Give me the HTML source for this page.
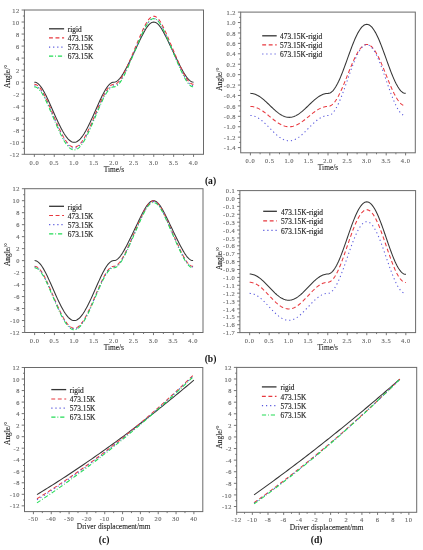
<!DOCTYPE html>
<html><head><meta charset="utf-8"><title>Figure</title>
<style>
html,body{margin:0;padding:0;background:#fff;}
body{width:423px;height:550px;overflow:hidden;}
svg{display:block;filter:blur(0.3px);}
text{font-family:'Liberation Serif', 'Times New Roman', serif;}
.tl{font-size:6.4px;fill:#686868;letter-spacing:0.55px;stroke:#686868;stroke-width:0.14px;}
.tt{font-size:7.4px;fill:#262626;stroke:#262626;stroke-width:0.1px;}
.lg{font-size:7.4px;fill:#262626;stroke:#262626;stroke-width:0.15px;}
.pl{font-size:9.6px;font-weight:bold;fill:#111;}
</style></head>
<body>
<svg width="423" height="550" viewBox="0 0 423 550">
<rect width="423" height="550" fill="#fff"/>
<rect x="24.4" y="10" width="179.1" height="144.3" fill="none" stroke="#6a6a6a" stroke-width="1.0"/>
<path d="M34.35 154.3v2.6M54.25 154.3v2.6M74.15 154.3v2.6M94.05 154.3v2.6M113.95 154.3v2.6M133.85 154.3v2.6M153.75 154.3v2.6M173.65 154.3v2.6M193.55 154.3v2.6M44.3 154.3v1.5M64.2 154.3v1.5M84.1 154.3v1.5M104 154.3v1.5M123.9 154.3v1.5M143.8 154.3v1.5M163.7 154.3v1.5M183.6 154.3v1.5" stroke="#666666" stroke-width="0.9" fill="none"/>
<text x="34.35" y="164.8" text-anchor="middle" class="tl">0.0</text>
<text x="54.25" y="164.8" text-anchor="middle" class="tl">0.5</text>
<text x="74.15" y="164.8" text-anchor="middle" class="tl">1.0</text>
<text x="94.05" y="164.8" text-anchor="middle" class="tl">1.5</text>
<text x="113.95" y="164.8" text-anchor="middle" class="tl">2.0</text>
<text x="133.85" y="164.8" text-anchor="middle" class="tl">2.5</text>
<text x="153.75" y="164.8" text-anchor="middle" class="tl">3.0</text>
<text x="173.65" y="164.8" text-anchor="middle" class="tl">3.5</text>
<text x="193.55" y="164.8" text-anchor="middle" class="tl">4.0</text>
<path d="M24.4 154.3h-2.8M24.4 142.28h-2.8M24.4 130.25h-2.8M24.4 118.23h-2.8M24.4 106.2h-2.8M24.4 94.18h-2.8M24.4 82.15h-2.8M24.4 70.12h-2.8M24.4 58.1h-2.8M24.4 46.08h-2.8M24.4 34.05h-2.8M24.4 22.02h-2.8M24.4 10h-2.8M24.4 148.29h-1.5M24.4 136.26h-1.5M24.4 124.24h-1.5M24.4 112.21h-1.5M24.4 100.19h-1.5M24.4 88.16h-1.5M24.4 76.14h-1.5M24.4 64.11h-1.5M24.4 52.09h-1.5M24.4 40.06h-1.5M24.4 28.04h-1.5M24.4 16.01h-1.5" stroke="#666666" stroke-width="0.9" fill="none"/>
<text x="19.8" y="156.9" text-anchor="end" class="tl">-12</text>
<text x="19.8" y="144.88" text-anchor="end" class="tl">-10</text>
<text x="19.8" y="132.85" text-anchor="end" class="tl">-8</text>
<text x="19.8" y="120.83" text-anchor="end" class="tl">-6</text>
<text x="19.8" y="108.8" text-anchor="end" class="tl">-4</text>
<text x="19.8" y="96.78" text-anchor="end" class="tl">-2</text>
<text x="19.8" y="84.75" text-anchor="end" class="tl">0</text>
<text x="19.8" y="72.72" text-anchor="end" class="tl">2</text>
<text x="19.8" y="60.7" text-anchor="end" class="tl">4</text>
<text x="19.8" y="48.68" text-anchor="end" class="tl">6</text>
<text x="19.8" y="36.65" text-anchor="end" class="tl">8</text>
<text x="19.8" y="24.62" text-anchor="end" class="tl">10</text>
<text x="19.8" y="12.6" text-anchor="end" class="tl">12</text>
<polyline points="34.35,82.15 35.34,82.26 36.34,82.59 37.34,83.14 38.33,83.9 39.32,84.86 40.32,86.01 41.31,87.34 42.31,88.83 43.3,90.47 44.3,92.24 45.3,94.12 46.29,96.1 47.28,98.17 48.28,100.3 49.27,102.48 50.27,104.7 51.27,106.95 52.26,109.21 53.25,111.46 54.25,113.72 55.24,115.95 56.24,118.15 57.23,120.32 58.23,122.44 59.23,124.51 60.22,126.51 61.22,128.44 62.21,130.29 63.2,132.04 64.2,133.69 65.19,135.22 66.19,136.63 67.19,137.91 68.18,139.03 69.17,140 70.17,140.81 71.16,141.45 72.16,141.91 73.16,142.18 74.15,142.28 75.14,142.18 76.14,141.91 77.13,141.45 78.13,140.81 79.12,140 80.12,139.03 81.11,137.91 82.11,136.63 83.1,135.22 84.1,133.69 85.09,132.04 86.09,130.29 87.08,128.44 88.08,126.51 89.07,124.51 90.07,122.44 91.06,120.32 92.06,118.15 93.06,115.95 94.05,113.72 95.04,111.46 96.04,109.21 97.03,106.95 98.03,104.7 99.03,102.48 100.02,100.3 101.02,98.17 102.01,96.1 103,94.12 104,92.24 104.99,90.47 105.99,88.83 106.99,87.34 107.98,86.01 108.97,84.86 109.97,83.9 110.96,83.14 111.96,82.59 112.96,82.26 113.95,82.15 114.94,82.04 115.94,81.71 116.94,81.16 117.93,80.41 118.93,79.46 119.92,78.34 120.91,77.05 121.91,75.62 122.91,74.06 123.9,72.39 124.9,70.63 125.89,68.8 126.89,66.91 127.88,64.98 128.88,63.01 129.87,61.01 130.86,58.99 131.86,56.95 132.86,54.9 133.85,52.84 134.84,50.77 135.84,48.69 136.83,46.61 137.83,44.53 138.82,42.45 139.82,40.39 140.81,38.35 141.81,36.35 142.8,34.41 143.8,32.53 144.79,30.75 145.79,29.08 146.78,27.53 147.78,26.15 148.77,24.93 149.77,23.91 150.76,23.1 151.76,22.5 152.75,22.15 153.75,22.02 154.75,22.15 155.74,22.5 156.74,23.1 157.73,23.91 158.72,24.93 159.72,26.15 160.72,27.53 161.71,29.08 162.71,30.75 163.7,32.53 164.69,34.41 165.69,36.35 166.69,38.35 167.68,40.39 168.68,42.45 169.67,44.53 170.66,46.61 171.66,48.69 172.66,50.77 173.65,52.84 174.65,54.9 175.64,56.95 176.64,58.99 177.63,61.01 178.62,63.01 179.62,64.98 180.62,66.91 181.61,68.8 182.6,70.63 183.6,72.39 184.59,74.06 185.59,75.62 186.59,77.05 187.58,78.34 188.57,79.46 189.57,80.41 190.56,81.16 191.56,81.71 192.55,82.04 193.55,82.15" fill="none" stroke="#353535" stroke-width="1.05"/>
<polyline points="34.35,84.31 35.34,84.43 36.34,84.77 37.34,85.34 38.33,86.13 39.32,87.13 40.32,88.33 41.31,89.71 42.31,91.26 43.3,92.96 44.3,94.81 45.3,96.77 46.29,98.84 47.28,100.99 48.28,103.22 49.27,105.5 50.27,107.82 51.27,110.17 52.26,112.54 53.25,114.9 54.25,117.26 55.24,119.6 56.24,121.92 57.23,124.19 58.23,126.42 59.23,128.59 60.22,130.69 61.22,132.71 62.21,134.65 63.2,136.49 64.2,138.22 65.19,139.82 66.19,141.3 67.19,142.63 68.18,143.81 69.17,144.83 70.17,145.67 71.16,146.34 72.16,146.82 73.16,147.11 74.15,147.21 75.14,147.11 76.14,146.82 77.13,146.34 78.13,145.67 79.12,144.83 80.12,143.81 81.11,142.63 82.11,141.3 83.1,139.82 84.1,138.22 85.09,136.49 86.09,134.65 87.08,132.71 88.08,130.69 89.07,128.59 90.07,126.42 91.06,124.19 92.06,121.92 93.06,119.6 94.05,117.26 95.04,114.9 96.04,112.54 97.03,110.17 98.03,107.82 99.03,105.5 100.02,103.22 101.02,100.99 102.01,98.84 103,96.77 104,94.81 104.99,92.96 105.99,91.26 106.99,89.71 107.98,88.33 108.97,87.13 109.97,86.13 110.96,85.34 111.96,84.77 112.96,84.43 113.95,84.31 114.94,84.19 115.94,83.82 116.94,83.22 117.93,82.38 118.93,81.32 119.92,80.07 120.91,78.63 121.91,77.02 122.91,75.27 123.9,73.39 124.9,71.4 125.89,69.33 126.89,67.18 127.88,64.97 128.88,62.71 129.87,60.42 130.86,58.1 131.86,55.75 132.86,53.39 133.85,51.02 134.84,48.64 135.84,46.25 136.83,43.86 137.83,41.48 138.82,39.11 139.82,36.76 140.81,34.45 141.81,32.19 142.8,30 143.8,27.9 144.79,25.9 145.79,24.04 146.78,22.32 147.78,20.78 148.77,19.43 149.77,18.3 150.76,17.4 151.76,16.75 152.75,16.36 153.75,16.22 154.75,16.36 155.74,16.75 156.74,17.4 157.73,18.3 158.72,19.43 159.72,20.78 160.72,22.32 161.71,24.04 162.71,25.9 163.7,27.9 164.69,30 165.69,32.19 166.69,34.45 167.68,36.76 168.68,39.11 169.67,41.48 170.66,43.86 171.66,46.25 172.66,48.64 173.65,51.02 174.65,53.39 175.64,55.75 176.64,58.1 177.63,60.42 178.62,62.71 179.62,64.97 180.62,67.18 181.61,69.33 182.6,71.4 183.6,73.39 184.59,75.27 185.59,77.02 186.59,78.63 187.58,80.07 188.57,81.32 189.57,82.38 190.56,83.22 191.56,83.82 192.55,84.19 193.55,84.31" fill="none" stroke="#e8393f" stroke-width="1.05" stroke-dasharray="3.9 2.6"/>
<polyline points="34.35,85.82 35.34,85.93 36.34,86.28 37.34,86.84 38.33,87.63 39.32,88.62 40.32,89.81 41.31,91.18 42.31,92.72 43.3,94.42 44.3,96.25 45.3,98.2 46.29,100.26 47.28,102.4 48.28,104.61 49.27,106.87 50.27,109.18 51.27,111.51 52.26,113.86 53.25,116.21 54.25,118.56 55.24,120.88 56.24,123.18 57.23,125.43 58.23,127.64 59.23,129.8 60.22,131.88 61.22,133.89 62.21,135.82 63.2,137.64 64.2,139.36 65.19,140.96 66.19,142.42 67.19,143.75 68.18,144.92 69.17,145.93 70.17,146.77 71.16,147.43 72.16,147.9 73.16,148.19 74.15,148.29 75.14,148.19 76.14,147.9 77.13,147.43 78.13,146.77 79.12,145.93 80.12,144.92 81.11,143.75 82.11,142.42 83.1,140.96 84.1,139.36 85.09,137.64 86.09,135.82 87.08,133.89 88.08,131.88 89.07,129.8 90.07,127.64 91.06,125.43 92.06,123.18 93.06,120.88 94.05,118.56 95.04,116.21 96.04,113.86 97.03,111.51 98.03,109.18 99.03,106.87 100.02,104.61 101.02,102.4 102.01,100.26 103,98.2 104,96.25 104.99,94.42 105.99,92.72 106.99,91.18 107.98,89.81 108.97,88.62 109.97,87.63 110.96,86.84 111.96,86.28 112.96,85.93 113.95,85.82 114.94,85.7 115.94,85.33 116.94,84.73 117.93,83.9 118.93,82.86 119.92,81.62 120.91,80.19 121.91,78.6 122.91,76.87 123.9,75.01 124.9,73.05 125.89,71 126.89,68.87 127.88,66.69 128.88,64.47 129.87,62.2 130.86,59.91 131.86,57.6 132.86,55.27 133.85,52.93 134.84,50.58 135.84,48.22 136.83,45.86 137.83,43.51 138.82,41.17 139.82,38.86 140.81,36.57 141.81,34.34 142.8,32.18 143.8,30.1 144.79,28.12 145.79,26.27 146.78,24.57 147.78,23.05 148.77,21.72 149.77,20.6 150.76,19.71 151.76,19.06 152.75,18.67 153.75,18.54 154.75,18.67 155.74,19.06 156.74,19.71 157.73,20.6 158.72,21.71 159.72,23.05 160.72,24.57 161.71,26.27 162.71,28.11 163.7,30.09 164.69,32.17 165.69,34.33 166.69,36.56 167.68,38.84 168.68,41.15 169.67,43.49 170.66,45.84 171.66,48.2 172.66,50.55 173.65,52.9 174.65,55.24 175.64,57.57 176.64,59.87 177.63,62.16 178.62,64.42 179.62,66.65 180.62,68.83 181.61,70.95 182.6,73 183.6,74.96 184.59,76.82 185.59,78.55 186.59,80.14 187.58,81.56 188.57,82.8 189.57,83.84 190.56,84.67 191.56,85.27 192.55,85.64 193.55,85.76" fill="none" stroke="#5757dd" stroke-width="1.05" stroke-dasharray="1.2 2.9"/>
<polyline points="34.35,86.87 35.34,86.99 36.34,87.33 37.34,87.9 38.33,88.69 39.32,89.69 40.32,90.89 41.31,92.27 42.31,93.83 43.3,95.54 44.3,97.38 45.3,99.35 46.29,101.43 47.28,103.58 48.28,105.82 49.27,108.1 50.27,110.43 51.27,112.79 52.26,115.16 53.25,117.53 54.25,119.89 55.24,122.24 56.24,124.56 57.23,126.84 58.23,129.07 59.23,131.24 60.22,133.35 61.22,135.38 62.21,137.32 63.2,139.17 64.2,140.9 65.19,142.51 66.19,143.99 67.19,145.33 68.18,146.51 69.17,147.53 70.17,148.38 71.16,149.04 72.16,149.52 73.16,149.81 74.15,149.91 75.14,149.81 76.14,149.52 77.13,149.04 78.13,148.38 79.12,147.53 80.12,146.51 81.11,145.33 82.11,143.99 83.1,142.51 84.1,140.9 85.09,139.17 86.09,137.32 87.08,135.38 88.08,133.35 89.07,131.24 90.07,129.07 91.06,126.84 92.06,124.56 93.06,122.24 94.05,119.89 95.04,117.53 96.04,115.16 97.03,112.79 98.03,110.43 99.03,108.1 100.02,105.82 101.02,103.58 102.01,101.43 103,99.35 104,97.38 104.99,95.54 105.99,93.83 106.99,92.27 107.98,90.89 108.97,89.69 109.97,88.69 110.96,87.9 111.96,87.33 112.96,86.99 113.95,86.87 114.94,86.75 115.94,86.38 116.94,85.77 117.93,84.93 118.93,83.87 119.92,82.61 120.91,81.17 121.91,79.56 122.91,77.8 123.9,75.91 124.9,73.92 125.89,71.84 126.89,69.68 127.88,67.47 128.88,65.2 129.87,62.9 130.86,60.57 131.86,58.22 132.86,55.85 133.85,53.47 134.84,51.08 135.84,48.68 136.83,46.29 137.83,43.9 138.82,41.52 139.82,39.17 140.81,36.85 141.81,34.58 142.8,32.39 143.8,30.27 144.79,28.27 145.79,26.4 146.78,24.68 147.78,23.14 148.77,21.79 149.77,20.65 150.76,19.75 151.76,19.1 152.75,18.7 153.75,18.57 154.75,18.7 155.74,19.1 156.74,19.75 157.73,20.65 158.72,21.79 159.72,23.14 160.72,24.68 161.71,26.4 162.71,28.28 163.7,30.28 164.69,32.39 165.69,34.59 166.69,36.86 167.68,39.17 168.68,41.53 169.67,43.91 170.66,46.3 171.66,48.7 172.66,51.09 173.65,53.49 174.65,55.87 175.64,58.24 176.64,60.59 177.63,62.92 178.62,65.22 179.62,67.49 180.62,69.7 181.61,71.86 182.6,73.95 183.6,75.94 184.59,77.83 185.59,79.58 186.59,81.2 187.58,82.64 188.57,83.9 189.57,84.96 190.56,85.8 191.56,86.41 192.55,86.78 193.55,86.9" fill="none" stroke="#22dc55" stroke-width="1.05" stroke-dasharray="4.2 1.9 0.9 1.9"/>
<rect x="240.7" y="12.1" width="174.6" height="140.7" fill="none" stroke="#6a6a6a" stroke-width="1.0"/>
<path d="M250.4 152.8v2.6M269.8 152.8v2.6M289.2 152.8v2.6M308.6 152.8v2.6M328 152.8v2.6M347.4 152.8v2.6M366.8 152.8v2.6M386.2 152.8v2.6M405.6 152.8v2.6M260.1 152.8v1.5M279.5 152.8v1.5M298.9 152.8v1.5M318.3 152.8v1.5M337.7 152.8v1.5M357.1 152.8v1.5M376.5 152.8v1.5M395.9 152.8v1.5" stroke="#666666" stroke-width="0.9" fill="none"/>
<text x="250.4" y="163.3" text-anchor="middle" class="tl">0.0</text>
<text x="269.8" y="163.3" text-anchor="middle" class="tl">0.5</text>
<text x="289.2" y="163.3" text-anchor="middle" class="tl">1.0</text>
<text x="308.6" y="163.3" text-anchor="middle" class="tl">1.5</text>
<text x="328" y="163.3" text-anchor="middle" class="tl">2.0</text>
<text x="347.4" y="163.3" text-anchor="middle" class="tl">2.5</text>
<text x="366.8" y="163.3" text-anchor="middle" class="tl">3.0</text>
<text x="386.2" y="163.3" text-anchor="middle" class="tl">3.5</text>
<text x="405.6" y="163.3" text-anchor="middle" class="tl">4.0</text>
<path d="M240.7 147.59h-2.8M240.7 137.17h-2.8M240.7 126.74h-2.8M240.7 116.32h-2.8M240.7 105.9h-2.8M240.7 95.48h-2.8M240.7 85.06h-2.8M240.7 74.63h-2.8M240.7 64.21h-2.8M240.7 53.79h-2.8M240.7 43.37h-2.8M240.7 32.94h-2.8M240.7 22.52h-2.8M240.7 12.1h-2.8M240.7 142.38h-1.5M240.7 131.96h-1.5M240.7 121.53h-1.5M240.7 111.11h-1.5M240.7 100.69h-1.5M240.7 90.27h-1.5M240.7 79.84h-1.5M240.7 69.42h-1.5M240.7 59h-1.5M240.7 48.58h-1.5M240.7 38.16h-1.5M240.7 27.73h-1.5M240.7 17.31h-1.5" stroke="#666666" stroke-width="0.9" fill="none"/>
<text x="236.1" y="150.19" text-anchor="end" class="tl">-1.4</text>
<text x="236.1" y="139.77" text-anchor="end" class="tl">-1.2</text>
<text x="236.1" y="129.34" text-anchor="end" class="tl">-1.0</text>
<text x="236.1" y="118.92" text-anchor="end" class="tl">-0.8</text>
<text x="236.1" y="108.5" text-anchor="end" class="tl">-0.6</text>
<text x="236.1" y="98.08" text-anchor="end" class="tl">-0.4</text>
<text x="236.1" y="87.66" text-anchor="end" class="tl">-0.2</text>
<text x="236.1" y="77.23" text-anchor="end" class="tl">0.0</text>
<text x="236.1" y="66.81" text-anchor="end" class="tl">0.2</text>
<text x="236.1" y="56.39" text-anchor="end" class="tl">0.4</text>
<text x="236.1" y="45.97" text-anchor="end" class="tl">0.6</text>
<text x="236.1" y="35.54" text-anchor="end" class="tl">0.8</text>
<text x="236.1" y="25.12" text-anchor="end" class="tl">1.0</text>
<text x="236.1" y="14.7" text-anchor="end" class="tl">1.2</text>
<polyline points="250.4,93.39 251.37,93.43 252.34,93.54 253.31,93.72 254.28,93.98 255.25,94.31 256.22,94.7 257.19,95.16 258.16,95.68 259.13,96.27 260.1,96.9 261.07,97.59 262.04,98.33 263.01,99.12 263.98,99.94 264.95,100.79 265.92,101.68 266.89,102.58 267.86,103.5 268.83,104.44 269.8,105.38 270.77,106.32 271.74,107.25 272.71,108.18 273.68,109.08 274.65,109.97 275.62,110.82 276.59,111.64 277.56,112.42 278.53,113.16 279.5,113.85 280.47,114.49 281.44,115.08 282.41,115.6 283.38,116.06 284.35,116.45 285.32,116.78 286.29,117.03 287.26,117.22 288.23,117.33 289.2,117.36 290.17,117.33 291.14,117.22 292.11,117.03 293.08,116.78 294.05,116.45 295.02,116.06 295.99,115.6 296.96,115.08 297.93,114.49 298.9,113.85 299.87,113.16 300.84,112.42 301.81,111.64 302.78,110.82 303.75,109.97 304.72,109.08 305.69,108.18 306.66,107.25 307.63,106.32 308.6,105.38 309.57,104.44 310.54,103.5 311.51,102.58 312.48,101.68 313.45,100.79 314.42,99.94 315.39,99.12 316.36,98.33 317.33,97.59 318.3,96.9 319.27,96.27 320.24,95.68 321.21,95.16 322.18,94.7 323.15,94.31 324.12,93.98 325.09,93.72 326.06,93.54 327.03,93.43 328,93.39 328.97,93.29 329.94,92.97 330.91,92.44 331.88,91.7 332.85,90.77 333.82,89.63 334.79,88.31 335.76,86.8 336.73,85.12 337.7,83.28 338.67,81.29 339.64,79.16 340.61,76.91 341.58,74.54 342.55,72.08 343.52,69.54 344.49,66.93 345.46,64.27 346.43,61.58 347.4,58.87 348.37,56.16 349.34,53.47 350.31,50.81 351.28,48.2 352.25,45.66 353.22,43.2 354.19,40.83 355.16,38.58 356.13,36.45 357.1,34.46 358.07,32.62 359.04,30.94 360.01,29.43 360.98,28.11 361.95,26.97 362.92,26.04 363.89,25.3 364.86,24.77 365.83,24.45 366.8,24.35 367.77,24.45 368.74,24.77 369.71,25.3 370.68,26.04 371.65,26.97 372.62,28.11 373.59,29.43 374.56,30.94 375.53,32.62 376.5,34.46 377.47,36.45 378.44,38.58 379.41,40.83 380.38,43.2 381.35,45.66 382.32,48.2 383.29,50.81 384.26,53.47 385.23,56.16 386.2,58.87 387.17,61.58 388.14,64.27 389.11,66.93 390.08,69.54 391.05,72.08 392.02,74.54 392.99,76.91 393.96,79.16 394.93,81.29 395.9,83.28 396.87,85.12 397.84,86.8 398.81,88.31 399.78,89.63 400.75,90.77 401.72,91.7 402.69,92.44 403.66,92.97 404.63,93.29 405.6,93.39" fill="none" stroke="#353535" stroke-width="1.05"/>
<polyline points="250.4,106.42 251.37,106.45 252.34,106.55 253.31,106.7 254.28,106.92 255.25,107.19 256.22,107.53 257.19,107.92 258.16,108.36 259.13,108.86 260.1,109.4 261.07,109.98 262.04,110.61 263.01,111.27 263.98,111.97 264.95,112.69 265.92,113.44 266.89,114.21 267.86,114.99 268.83,115.79 269.8,116.58 270.77,117.38 271.74,118.17 272.71,118.95 273.68,119.72 274.65,120.47 275.62,121.2 276.59,121.89 277.56,122.56 278.53,123.18 279.5,123.77 280.47,124.31 281.44,124.8 282.41,125.25 283.38,125.64 284.35,125.97 285.32,126.25 286.29,126.46 287.26,126.62 288.23,126.71 289.2,126.74 290.17,126.71 291.14,126.62 292.11,126.46 293.08,126.25 294.05,125.97 295.02,125.64 295.99,125.25 296.96,124.8 297.93,124.31 298.9,123.77 299.87,123.18 300.84,122.56 301.81,121.89 302.78,121.2 303.75,120.47 304.72,119.72 305.69,118.95 306.66,118.17 307.63,117.38 308.6,116.58 309.57,115.79 310.54,114.99 311.51,114.21 312.48,113.44 313.45,112.69 314.42,111.97 315.39,111.27 316.36,110.61 317.33,109.98 318.3,109.4 319.27,108.86 320.24,108.36 321.21,107.92 322.18,107.53 323.15,107.19 324.12,106.92 325.09,106.7 326.06,106.55 327.03,106.45 328,106.42 328.97,106.33 329.94,106.04 330.91,105.56 331.88,104.9 332.85,104.06 333.82,103.04 334.79,101.85 335.76,100.5 336.73,98.99 337.7,97.34 338.67,95.55 339.64,93.64 340.61,91.62 341.58,89.49 342.55,87.28 343.52,85 344.49,82.65 345.46,80.27 346.43,77.85 347.4,75.42 348.37,72.98 349.34,70.56 350.31,68.18 351.28,65.83 352.25,63.55 353.22,61.34 354.19,59.21 355.16,57.19 356.13,55.28 357.1,53.49 358.07,51.84 359.04,50.33 360.01,48.98 360.98,47.79 361.95,46.77 362.92,45.93 363.89,45.27 364.86,44.79 365.83,44.5 366.8,44.41 367.77,44.5 368.74,44.79 369.71,45.26 370.68,45.91 371.65,46.75 372.62,47.76 373.59,48.94 374.56,50.28 375.53,51.78 376.5,53.41 377.47,55.19 378.44,57.08 379.41,59.09 380.38,61.2 381.35,63.39 382.32,65.65 383.29,67.98 384.26,70.34 385.23,72.74 386.2,75.15 387.17,77.57 388.14,79.96 389.11,82.33 390.08,84.66 391.05,86.92 392.02,89.11 392.99,91.22 393.96,93.23 394.93,95.12 395.9,96.89 396.87,98.53 397.84,100.03 398.81,101.37 399.78,102.55 400.75,103.56 401.72,104.4 402.69,105.05 403.66,105.52 404.63,105.81 405.6,105.9" fill="none" stroke="#e8393f" stroke-width="1.05" stroke-dasharray="3.9 2.6"/>
<polyline points="250.4,115.54 251.37,115.58 252.34,115.7 253.31,115.89 254.28,116.16 255.25,116.5 256.22,116.92 257.19,117.4 258.16,117.95 259.13,118.57 260.1,119.24 261.07,119.97 262.04,120.75 263.01,121.57 263.98,122.44 264.95,123.34 265.92,124.27 266.89,125.23 267.86,126.2 268.83,127.19 269.8,128.18 270.77,129.17 271.74,130.15 272.71,131.13 273.68,132.08 274.65,133.01 275.62,133.91 276.59,134.78 277.56,135.61 278.53,136.38 279.5,137.11 280.47,137.79 281.44,138.4 282.41,138.95 283.38,139.44 284.35,139.85 285.32,140.2 286.29,140.47 287.26,140.66 288.23,140.78 289.2,140.81 290.17,140.78 291.14,140.66 292.11,140.47 293.08,140.2 294.05,139.85 295.02,139.44 295.99,138.95 296.96,138.4 297.93,137.79 298.9,137.11 299.87,136.38 300.84,135.61 301.81,134.78 302.78,133.91 303.75,133.01 304.72,132.08 305.69,131.13 306.66,130.15 307.63,129.17 308.6,128.18 309.57,127.19 310.54,126.2 311.51,125.23 312.48,124.27 313.45,123.34 314.42,122.44 315.39,121.57 316.36,120.75 317.33,119.97 318.3,119.24 319.27,118.57 320.24,117.95 321.21,117.4 322.18,116.92 323.15,116.5 324.12,116.16 325.09,115.89 326.06,115.7 327.03,115.58 328,115.54 328.97,115.43 329.94,115.1 330.91,114.56 331.88,113.81 332.85,112.84 333.82,111.68 334.79,110.32 335.76,108.77 336.73,107.05 337.7,105.16 338.67,103.12 339.64,100.93 340.61,98.62 341.58,96.19 342.55,93.67 343.52,91.06 344.49,88.38 345.46,85.65 346.43,82.89 347.4,80.11 348.37,77.32 349.34,74.56 350.31,71.83 351.28,69.15 352.25,66.54 353.22,64.02 354.19,61.59 355.16,59.28 356.13,57.09 357.1,55.05 358.07,53.16 359.04,51.44 360.01,49.89 360.98,48.53 361.95,47.37 362.92,46.4 363.89,45.65 364.86,45.11 365.83,44.78 366.8,44.67 367.77,44.78 368.74,45.11 369.71,45.65 370.68,46.41 371.65,47.38 372.62,48.55 373.59,49.91 374.56,51.46 375.53,53.19 376.5,55.09 377.47,57.14 378.44,59.33 379.41,61.65 380.38,64.09 381.35,66.62 382.32,69.24 383.29,71.93 384.26,74.67 385.23,77.44 386.2,80.24 387.17,83.03 388.14,85.8 389.11,88.54 390.08,91.23 391.05,93.85 392.02,96.38 392.99,98.82 393.96,101.14 394.93,103.33 395.9,105.38 396.87,107.28 397.84,109.01 398.81,110.56 399.78,111.92 400.75,113.09 401.72,114.06 402.69,114.82 403.66,115.36 404.63,115.69 405.6,115.8" fill="none" stroke="#5757dd" stroke-width="1.05" stroke-dasharray="1.2 2.9"/>
<rect x="24.7" y="188.7" width="178.3" height="143.8" fill="none" stroke="#6a6a6a" stroke-width="1.0"/>
<path d="M34.61 332.5v2.6M54.42 332.5v2.6M74.23 332.5v2.6M94.04 332.5v2.6M113.85 332.5v2.6M133.66 332.5v2.6M153.47 332.5v2.6M173.28 332.5v2.6M193.09 332.5v2.6M44.51 332.5v1.5M64.32 332.5v1.5M84.13 332.5v1.5M103.94 332.5v1.5M123.76 332.5v1.5M143.57 332.5v1.5M163.38 332.5v1.5M183.19 332.5v1.5" stroke="#666666" stroke-width="0.9" fill="none"/>
<text x="34.61" y="342.5" text-anchor="middle" class="tl">0.0</text>
<text x="54.42" y="342.5" text-anchor="middle" class="tl">0.5</text>
<text x="74.23" y="342.5" text-anchor="middle" class="tl">1.0</text>
<text x="94.04" y="342.5" text-anchor="middle" class="tl">1.5</text>
<text x="113.85" y="342.5" text-anchor="middle" class="tl">2.0</text>
<text x="133.66" y="342.5" text-anchor="middle" class="tl">2.5</text>
<text x="153.47" y="342.5" text-anchor="middle" class="tl">3.0</text>
<text x="173.28" y="342.5" text-anchor="middle" class="tl">3.5</text>
<text x="193.09" y="342.5" text-anchor="middle" class="tl">4.0</text>
<path d="M24.7 332.5h-2.8M24.7 320.52h-2.8M24.7 308.53h-2.8M24.7 296.55h-2.8M24.7 284.57h-2.8M24.7 272.58h-2.8M24.7 260.6h-2.8M24.7 248.62h-2.8M24.7 236.63h-2.8M24.7 224.65h-2.8M24.7 212.67h-2.8M24.7 200.68h-2.8M24.7 188.7h-2.8M24.7 326.51h-1.5M24.7 314.52h-1.5M24.7 302.54h-1.5M24.7 290.56h-1.5M24.7 278.57h-1.5M24.7 266.59h-1.5M24.7 254.61h-1.5M24.7 242.62h-1.5M24.7 230.64h-1.5M24.7 218.66h-1.5M24.7 206.67h-1.5M24.7 194.69h-1.5" stroke="#666666" stroke-width="0.9" fill="none"/>
<text x="20.1" y="335.1" text-anchor="end" class="tl">-12</text>
<text x="20.1" y="323.12" text-anchor="end" class="tl">-10</text>
<text x="20.1" y="311.13" text-anchor="end" class="tl">-8</text>
<text x="20.1" y="299.15" text-anchor="end" class="tl">-6</text>
<text x="20.1" y="287.17" text-anchor="end" class="tl">-4</text>
<text x="20.1" y="275.18" text-anchor="end" class="tl">-2</text>
<text x="20.1" y="263.2" text-anchor="end" class="tl">0</text>
<text x="20.1" y="251.22" text-anchor="end" class="tl">2</text>
<text x="20.1" y="239.23" text-anchor="end" class="tl">4</text>
<text x="20.1" y="227.25" text-anchor="end" class="tl">6</text>
<text x="20.1" y="215.27" text-anchor="end" class="tl">8</text>
<text x="20.1" y="203.28" text-anchor="end" class="tl">10</text>
<text x="20.1" y="191.3" text-anchor="end" class="tl">12</text>
<polyline points="34.61,260.6 35.6,260.71 36.59,261.04 37.58,261.59 38.57,262.35 39.56,263.3 40.55,264.45 41.54,265.77 42.53,267.26 43.52,268.89 44.51,270.65 45.5,272.53 46.49,274.51 47.48,276.56 48.47,278.69 49.46,280.86 50.45,283.07 51.45,285.31 52.44,287.56 53.43,289.81 54.42,292.06 55.41,294.28 56.4,296.48 57.39,298.64 58.38,300.75 59.37,302.81 60.36,304.81 61.35,306.73 62.34,308.57 63.33,310.32 64.32,311.96 65.31,313.49 66.3,314.89 67.29,316.16 68.28,317.29 69.28,318.25 70.27,319.06 71.26,319.69 72.25,320.15 73.24,320.42 74.23,320.52 75.22,320.42 76.21,320.15 77.2,319.69 78.19,319.06 79.18,318.25 80.17,317.29 81.16,316.16 82.15,314.89 83.14,313.49 84.13,311.96 85.12,310.32 86.11,308.57 87.11,306.73 88.1,304.81 89.09,302.81 90.08,300.75 91.07,298.64 92.06,296.48 93.05,294.28 94.04,292.06 95.03,289.81 96.02,287.56 97.01,285.31 98,283.07 98.99,280.86 99.98,278.69 100.97,276.56 101.96,274.51 102.95,272.53 103.94,270.65 104.94,268.89 105.93,267.26 106.92,265.77 107.91,264.45 108.9,263.3 109.89,262.35 110.88,261.59 111.87,261.04 112.86,260.71 113.85,260.6 114.84,260.49 115.83,260.16 116.82,259.61 117.81,258.87 118.8,257.92 119.79,256.8 120.78,255.52 121.77,254.09 122.77,252.54 123.76,250.88 124.75,249.12 125.74,247.3 126.73,245.42 127.72,243.49 128.71,241.52 129.7,239.53 130.69,237.52 131.68,235.49 132.67,233.44 133.66,231.39 134.65,229.33 135.64,227.26 136.63,225.18 137.62,223.11 138.61,221.04 139.6,218.99 140.59,216.96 141.59,214.96 142.58,213.02 143.57,211.16 144.56,209.38 145.55,207.71 146.54,206.17 147.53,204.79 148.52,203.58 149.51,202.56 150.5,201.75 151.49,201.16 152.48,200.8 153.47,200.68 154.46,200.8 155.45,201.16 156.44,201.75 157.43,202.56 158.43,203.58 159.42,204.79 160.41,206.17 161.4,207.71 162.39,209.38 163.38,211.16 164.37,213.02 165.36,214.96 166.35,216.96 167.34,218.99 168.33,221.04 169.32,223.11 170.31,225.18 171.3,227.26 172.29,229.33 173.28,231.39 174.27,233.44 175.26,235.49 176.26,237.52 177.25,239.53 178.24,241.52 179.23,243.49 180.22,245.42 181.21,247.3 182.2,249.12 183.19,250.88 184.18,252.54 185.17,254.09 186.16,255.52 187.15,256.8 188.14,257.92 189.13,258.87 190.12,259.61 191.11,260.16 192.1,260.49 193.09,260.6" fill="none" stroke="#353535" stroke-width="1.05"/>
<polyline points="34.61,266.34 35.6,266.45 36.59,266.79 37.58,267.36 38.57,268.13 39.56,269.12 40.55,270.3 41.54,271.66 42.53,273.19 43.52,274.87 44.51,276.68 45.5,278.62 46.49,280.66 47.48,282.78 48.47,284.97 49.46,287.22 50.45,289.5 51.45,291.81 52.44,294.14 53.43,296.47 54.42,298.79 55.41,301.09 56.4,303.37 57.39,305.6 58.38,307.79 59.37,309.93 60.36,311.99 61.35,313.99 62.34,315.89 63.33,317.7 64.32,319.4 65.31,320.98 66.3,322.43 67.29,323.74 68.28,324.91 69.28,325.91 70.27,326.74 71.26,327.39 72.25,327.87 73.24,328.15 74.23,328.25 75.22,328.15 76.21,327.87 77.2,327.39 78.19,326.74 79.18,325.91 80.17,324.91 81.16,323.74 82.15,322.43 83.14,320.98 84.13,319.4 85.12,317.7 86.11,315.89 87.11,313.99 88.1,311.99 89.09,309.93 90.08,307.79 91.07,305.6 92.06,303.37 93.05,301.09 94.04,298.79 95.03,296.47 96.02,294.14 97.01,291.81 98,289.5 98.99,287.22 99.98,284.97 100.97,282.78 101.96,280.66 102.95,278.62 103.94,276.68 104.94,274.87 105.93,273.19 106.92,271.66 107.91,270.3 108.9,269.12 109.89,268.13 110.88,267.36 111.87,266.79 112.86,266.45 113.85,266.34 114.84,266.22 115.83,265.87 116.82,265.28 117.81,264.47 118.8,263.45 119.79,262.24 120.78,260.85 121.77,259.31 122.77,257.62 123.76,255.81 124.75,253.9 125.74,251.91 126.73,249.85 127.72,247.73 128.71,245.57 129.7,243.38 130.69,241.16 131.68,238.91 132.67,236.66 133.66,234.39 134.65,232.11 135.64,229.83 136.63,227.54 137.62,225.26 138.61,222.99 139.6,220.74 140.59,218.52 141.59,216.35 142.58,214.24 143.57,212.22 144.56,210.29 145.55,208.49 146.54,206.84 147.53,205.35 148.52,204.05 149.51,202.95 150.5,202.08 151.49,201.45 152.48,201.07 153.47,200.94 154.46,201.07 155.45,201.45 156.44,202.08 157.43,202.95 158.43,204.05 159.42,205.35 160.41,206.84 161.4,208.49 162.39,210.3 163.38,212.22 164.37,214.25 165.36,216.36 166.35,218.53 167.34,220.75 168.33,223 169.32,225.27 170.31,227.55 171.3,229.84 172.29,232.12 173.28,234.4 174.27,236.67 175.26,238.93 176.26,241.17 177.25,243.39 178.24,245.59 179.23,247.75 180.22,249.87 181.21,251.93 182.2,253.92 183.19,255.83 184.18,257.64 185.17,259.33 186.16,260.88 187.15,262.27 188.14,263.48 189.13,264.49 190.12,265.3 191.11,265.89 192.1,266.24 193.09,266.36" fill="none" stroke="#e8393f" stroke-width="1.05" stroke-dasharray="3.9 2.6"/>
<polyline points="34.61,266.96 35.6,267.08 36.59,267.42 37.58,267.98 38.57,268.76 39.56,269.74 40.55,270.92 41.54,272.28 42.53,273.81 43.52,275.5 44.51,277.31 45.5,279.25 46.49,281.29 47.48,283.41 48.47,285.6 49.46,287.85 50.45,290.14 51.45,292.45 52.44,294.78 53.43,297.11 54.42,299.43 55.41,301.74 56.4,304.01 57.39,306.25 58.38,308.44 59.37,310.58 60.36,312.64 61.35,314.64 62.34,316.54 63.33,318.35 64.32,320.05 65.31,321.64 66.3,323.09 67.29,324.4 68.28,325.56 69.28,326.56 70.27,327.4 71.26,328.05 72.25,328.52 73.24,328.81 74.23,328.9 75.22,328.81 76.21,328.52 77.2,328.05 78.19,327.4 79.18,326.56 80.17,325.56 81.16,324.4 82.15,323.09 83.14,321.64 84.13,320.05 85.12,318.35 86.11,316.54 87.11,314.64 88.1,312.64 89.09,310.58 90.08,308.44 91.07,306.25 92.06,304.01 93.05,301.74 94.04,299.43 95.03,297.11 96.02,294.78 97.01,292.45 98,290.14 98.99,287.85 99.98,285.6 100.97,283.41 101.96,281.29 102.95,279.25 103.94,277.31 104.94,275.5 105.93,273.81 106.92,272.28 107.91,270.92 108.9,269.74 109.89,268.76 110.88,267.98 111.87,267.42 112.86,267.08 113.85,266.96 114.84,266.84 115.83,266.49 116.82,265.9 117.81,265.09 118.8,264.08 119.79,262.86 120.78,261.48 121.77,259.93 122.77,258.24 123.76,256.43 124.75,254.52 125.74,252.53 126.73,250.47 127.72,248.35 128.71,246.19 129.7,243.99 130.69,241.77 131.68,239.53 132.67,237.27 133.66,235 134.65,232.72 135.64,230.44 136.63,228.15 137.62,225.87 138.61,223.6 139.6,221.35 140.59,219.13 141.59,216.96 142.58,214.85 143.57,212.82 144.56,210.89 145.55,209.09 146.54,207.44 147.53,205.95 148.52,204.65 149.51,203.55 150.5,202.68 151.49,202.05 152.48,201.67 153.47,201.54 154.46,201.67 155.45,202.05 156.44,202.68 157.43,203.55 158.43,204.65 159.42,205.95 160.41,207.44 161.4,209.09 162.39,210.9 163.38,212.82 164.37,214.85 165.36,216.96 166.35,219.13 167.34,221.35 168.33,223.6 169.32,225.87 170.31,228.16 171.3,230.44 172.29,232.73 173.28,235.01 174.27,237.28 175.26,239.54 176.26,241.78 177.25,244 178.24,246.2 179.23,248.36 180.22,250.48 181.21,252.54 182.2,254.54 183.19,256.45 184.18,258.26 185.17,259.94 186.16,261.49 187.15,262.88 188.14,264.09 189.13,265.11 190.12,265.92 191.11,266.51 192.1,266.86 193.09,266.98" fill="none" stroke="#5757dd" stroke-width="1.05" stroke-dasharray="1.2 2.9"/>
<polyline points="34.61,267.81 35.6,267.92 36.59,268.26 37.58,268.82 38.57,269.6 39.56,270.59 40.55,271.77 41.54,273.13 42.53,274.66 43.52,276.34 44.51,278.16 45.5,280.1 46.49,282.14 47.48,284.26 48.47,286.45 49.46,288.7 50.45,290.99 51.45,293.3 52.44,295.63 53.43,297.96 54.42,300.29 55.41,302.59 56.4,304.87 57.39,307.11 58.38,309.3 59.37,311.43 60.36,313.5 61.35,315.49 62.34,317.4 63.33,319.21 64.32,320.91 65.31,322.5 66.3,323.95 67.29,325.26 68.28,326.42 69.28,327.43 70.27,328.26 71.26,328.91 72.25,329.39 73.24,329.67 74.23,329.77 75.22,329.67 76.21,329.39 77.2,328.91 78.19,328.26 79.18,327.43 80.17,326.42 81.16,325.26 82.15,323.95 83.14,322.5 84.13,320.91 85.12,319.21 86.11,317.4 87.11,315.49 88.1,313.5 89.09,311.43 90.08,309.3 91.07,307.11 92.06,304.87 93.05,302.59 94.04,300.29 95.03,297.96 96.02,295.63 97.01,293.3 98,290.99 98.99,288.7 99.98,286.45 100.97,284.26 101.96,282.14 102.95,280.1 103.94,278.16 104.94,276.34 105.93,274.66 106.92,273.13 107.91,271.77 108.9,270.59 109.89,269.6 110.88,268.82 111.87,268.26 112.86,267.92 113.85,267.81 114.84,267.69 115.83,267.33 116.82,266.75 117.81,265.94 118.8,264.92 119.79,263.71 120.78,262.32 121.77,260.78 122.77,259.09 123.76,257.29 124.75,255.38 125.74,253.39 126.73,251.32 127.72,249.21 128.71,247.05 129.7,244.86 130.69,242.64 131.68,240.4 132.67,238.14 133.66,235.88 134.65,233.6 135.64,231.32 136.63,229.03 137.62,226.75 138.61,224.48 139.6,222.23 140.59,220.02 141.59,217.85 142.58,215.74 143.57,213.72 144.56,211.79 145.55,209.99 146.54,208.34 147.53,206.85 148.52,205.55 149.51,204.46 150.5,203.59 151.49,202.96 152.48,202.57 153.47,202.44 154.46,202.57 155.45,202.96 156.44,203.59 157.43,204.46 158.43,205.55 159.42,206.85 160.41,208.34 161.4,209.99 162.39,211.79 163.38,213.72 164.37,215.74 165.36,217.85 166.35,220.02 167.34,222.24 168.33,224.49 169.32,226.76 170.31,229.04 171.3,231.32 172.29,233.6 173.28,235.88 174.27,238.15 175.26,240.41 176.26,242.64 177.25,244.86 178.24,247.06 179.23,249.22 180.22,251.33 181.21,253.4 182.2,255.39 183.19,257.3 184.18,259.1 185.17,260.79 186.16,262.34 187.15,263.72 188.14,264.93 189.13,265.95 190.12,266.76 191.11,267.35 192.1,267.7 193.09,267.82" fill="none" stroke="#22dc55" stroke-width="1.05" stroke-dasharray="4.2 1.9 0.9 1.9"/>
<rect x="239.9" y="190.6" width="175.7" height="142" fill="none" stroke="#6a6a6a" stroke-width="1.0"/>
<path d="M249.66 332.6v2.6M269.18 332.6v2.6M288.71 332.6v2.6M308.23 332.6v2.6M327.75 332.6v2.6M347.27 332.6v2.6M366.79 332.6v2.6M386.32 332.6v2.6M405.84 332.6v2.6M259.42 332.6v1.5M278.94 332.6v1.5M298.47 332.6v1.5M317.99 332.6v1.5M337.51 332.6v1.5M357.03 332.6v1.5M376.56 332.6v1.5M396.08 332.6v1.5" stroke="#666666" stroke-width="0.9" fill="none"/>
<text x="249.66" y="342.8" text-anchor="middle" class="tl">0.0</text>
<text x="269.18" y="342.8" text-anchor="middle" class="tl">0.5</text>
<text x="288.71" y="342.8" text-anchor="middle" class="tl">1.0</text>
<text x="308.23" y="342.8" text-anchor="middle" class="tl">1.5</text>
<text x="327.75" y="342.8" text-anchor="middle" class="tl">2.0</text>
<text x="347.27" y="342.8" text-anchor="middle" class="tl">2.5</text>
<text x="366.79" y="342.8" text-anchor="middle" class="tl">3.0</text>
<text x="386.32" y="342.8" text-anchor="middle" class="tl">3.5</text>
<text x="405.84" y="342.8" text-anchor="middle" class="tl">4.0</text>
<path d="M239.9 332.6h-2.8M239.9 324.71h-2.8M239.9 316.82h-2.8M239.9 308.93h-2.8M239.9 301.04h-2.8M239.9 293.16h-2.8M239.9 285.27h-2.8M239.9 277.38h-2.8M239.9 269.49h-2.8M239.9 261.6h-2.8M239.9 253.71h-2.8M239.9 245.82h-2.8M239.9 237.93h-2.8M239.9 230.04h-2.8M239.9 222.16h-2.8M239.9 214.27h-2.8M239.9 206.38h-2.8M239.9 198.49h-2.8M239.9 190.6h-2.8M239.9 328.66h-1.5M239.9 320.77h-1.5M239.9 312.88h-1.5M239.9 304.99h-1.5M239.9 297.1h-1.5M239.9 289.21h-1.5M239.9 281.32h-1.5M239.9 273.43h-1.5M239.9 265.54h-1.5M239.9 257.66h-1.5M239.9 249.77h-1.5M239.9 241.88h-1.5M239.9 233.99h-1.5M239.9 226.1h-1.5M239.9 218.21h-1.5M239.9 210.32h-1.5M239.9 202.43h-1.5M239.9 194.54h-1.5" stroke="#666666" stroke-width="0.9" fill="none"/>
<text x="235.3" y="335.2" text-anchor="end" class="tl">-1.7</text>
<text x="235.3" y="327.31" text-anchor="end" class="tl">-1.6</text>
<text x="235.3" y="319.42" text-anchor="end" class="tl">-1.5</text>
<text x="235.3" y="311.53" text-anchor="end" class="tl">-1.4</text>
<text x="235.3" y="303.64" text-anchor="end" class="tl">-1.3</text>
<text x="235.3" y="295.76" text-anchor="end" class="tl">-1.2</text>
<text x="235.3" y="287.87" text-anchor="end" class="tl">-1.1</text>
<text x="235.3" y="279.98" text-anchor="end" class="tl">-1.0</text>
<text x="235.3" y="272.09" text-anchor="end" class="tl">-0.9</text>
<text x="235.3" y="264.2" text-anchor="end" class="tl">-0.8</text>
<text x="235.3" y="256.31" text-anchor="end" class="tl">-0.7</text>
<text x="235.3" y="248.42" text-anchor="end" class="tl">-0.6</text>
<text x="235.3" y="240.53" text-anchor="end" class="tl">-0.5</text>
<text x="235.3" y="232.64" text-anchor="end" class="tl">-0.4</text>
<text x="235.3" y="224.76" text-anchor="end" class="tl">-0.3</text>
<text x="235.3" y="216.87" text-anchor="end" class="tl">-0.2</text>
<text x="235.3" y="208.98" text-anchor="end" class="tl">-0.1</text>
<text x="235.3" y="201.09" text-anchor="end" class="tl">0.0</text>
<text x="235.3" y="193.2" text-anchor="end" class="tl">0.1</text>
<polyline points="249.66,274.06 250.64,274.1 251.61,274.23 252.59,274.43 253.57,274.71 254.54,275.06 255.52,275.49 256.49,275.99 257.47,276.57 258.45,277.2 259.42,277.9 260.4,278.66 261.37,279.46 262.35,280.32 263.33,281.21 264.3,282.15 265.28,283.11 266.25,284.1 267.23,285.11 268.21,286.13 269.18,287.16 270.16,288.19 271.14,289.21 272.11,290.22 273.09,291.21 274.06,292.17 275.04,293.11 276.02,294 276.99,294.86 277.97,295.66 278.94,296.42 279.92,297.12 280.9,297.75 281.87,298.33 282.85,298.83 283.82,299.26 284.8,299.61 285.78,299.89 286.75,300.09 287.73,300.22 288.71,300.26 289.68,300.22 290.66,300.09 291.63,299.89 292.61,299.61 293.59,299.26 294.56,298.83 295.54,298.33 296.51,297.75 297.49,297.12 298.47,296.42 299.44,295.66 300.42,294.86 301.39,294 302.37,293.11 303.35,292.17 304.32,291.21 305.3,290.22 306.28,289.21 307.25,288.19 308.23,287.16 309.2,286.13 310.18,285.11 311.16,284.1 312.13,283.11 313.11,282.15 314.08,281.21 315.06,280.32 316.04,279.46 317.01,278.66 317.99,277.9 318.97,277.2 319.94,276.57 320.92,275.99 321.89,275.49 322.87,275.06 323.85,274.71 324.82,274.43 325.8,274.23 326.77,274.1 327.75,274.06 328.73,273.95 329.7,273.62 330.68,273.07 331.65,272.3 332.63,271.32 333.61,270.13 334.58,268.75 335.56,267.17 336.54,265.42 337.51,263.49 338.49,261.41 339.46,259.19 340.44,256.83 341.42,254.36 342.39,251.78 343.37,249.13 344.34,246.4 345.32,243.62 346.3,240.8 347.27,237.97 348.25,235.14 349.22,232.33 350.2,229.55 351.18,226.82 352.15,224.16 353.13,221.59 354.11,219.11 355.08,216.76 356.06,214.53 357.03,212.45 358.01,210.53 358.99,208.77 359.96,207.2 360.94,205.81 361.91,204.63 362.89,203.65 363.87,202.88 364.84,202.33 365.82,201.99 366.79,201.88 367.77,201.99 368.75,202.33 369.72,202.88 370.7,203.66 371.68,204.64 372.65,205.83 373.63,207.22 374.6,208.8 375.58,210.57 376.56,212.5 377.53,214.59 378.51,216.82 379.48,219.19 380.46,221.67 381.44,224.26 382.41,226.93 383.39,229.67 384.36,232.46 385.34,235.29 386.32,238.13 387.29,240.97 388.27,243.8 389.25,246.59 390.22,249.33 391.2,252 392.17,254.59 393.15,257.07 394.13,259.44 395.1,261.67 396.08,263.76 397.05,265.69 398.03,267.46 399.01,269.04 399.98,270.43 400.96,271.62 401.93,272.61 402.91,273.38 403.89,273.93 404.86,274.27 405.84,274.38" fill="none" stroke="#353535" stroke-width="1.05"/>
<polyline points="249.66,282.27 250.64,282.31 251.61,282.43 252.59,282.64 253.57,282.92 254.54,283.28 255.52,283.72 256.49,284.23 257.47,284.82 258.45,285.46 259.42,286.17 260.4,286.94 261.37,287.76 262.35,288.64 263.33,289.55 264.3,290.5 265.28,291.48 266.25,292.49 267.23,293.52 268.21,294.56 269.18,295.6 270.16,296.65 271.14,297.69 272.11,298.71 273.09,299.72 274.06,300.7 275.04,301.65 276.02,302.57 276.99,303.44 277.97,304.26 278.94,305.03 279.92,305.74 280.9,306.39 281.87,306.97 282.85,307.48 283.82,307.92 284.8,308.28 285.78,308.56 286.75,308.77 287.73,308.89 288.71,308.93 289.68,308.89 290.66,308.77 291.63,308.56 292.61,308.28 293.59,307.92 294.56,307.48 295.54,306.97 296.51,306.39 297.49,305.74 298.47,305.03 299.44,304.26 300.42,303.44 301.39,302.57 302.37,301.65 303.35,300.7 304.32,299.72 305.3,298.71 306.28,297.69 307.25,296.65 308.23,295.6 309.2,294.56 310.18,293.52 311.16,292.49 312.13,291.48 313.11,290.5 314.08,289.55 315.06,288.64 316.04,287.76 317.01,286.94 317.99,286.17 318.97,285.46 319.94,284.82 320.92,284.23 321.89,283.72 322.87,283.28 323.85,282.92 324.82,282.64 325.8,282.43 326.77,282.31 327.75,282.27 328.73,282.16 329.7,281.82 330.68,281.27 331.65,280.49 332.63,279.51 333.61,278.32 334.58,276.93 335.56,275.35 336.54,273.58 337.51,271.65 338.49,269.56 339.46,267.33 340.44,264.96 341.42,262.48 342.39,259.89 343.37,257.22 344.34,254.48 345.32,251.69 346.3,248.86 347.27,246.02 348.25,243.18 349.22,240.35 350.2,237.56 351.18,234.82 352.15,232.15 353.13,229.56 354.11,227.08 355.08,224.71 356.06,222.48 357.03,220.39 358.01,218.46 358.99,216.69 359.96,215.11 360.94,213.72 361.91,212.53 362.89,211.54 363.87,210.77 364.84,210.22 365.82,209.88 366.79,209.77 367.77,209.88 368.75,210.22 369.72,210.77 370.7,211.55 371.68,212.54 372.65,213.73 373.63,215.13 374.6,216.72 375.58,218.48 376.56,220.42 377.53,222.52 378.51,224.76 379.48,227.14 380.46,229.63 381.44,232.22 382.41,234.9 383.39,237.65 384.36,240.45 385.34,243.28 386.32,246.14 387.29,248.99 388.27,251.83 389.25,254.63 390.22,257.38 391.2,260.06 392.17,262.65 393.15,265.14 394.13,267.51 395.1,269.76 396.08,271.85 397.05,273.79 398.03,275.56 399.01,277.15 399.98,278.54 400.96,279.74 401.93,280.73 402.91,281.5 403.89,282.06 404.86,282.39 405.84,282.51" fill="none" stroke="#e8393f" stroke-width="1.05" stroke-dasharray="3.9 2.6"/>
<polyline points="249.66,293.39 250.64,293.43 251.61,293.56 252.59,293.76 253.57,294.05 254.54,294.42 255.52,294.86 256.49,295.37 257.47,295.96 258.45,296.61 259.42,297.33 260.4,298.11 261.37,298.94 262.35,299.81 263.33,300.74 264.3,301.7 265.28,302.69 266.25,303.7 267.23,304.74 268.21,305.79 269.18,306.84 270.16,307.9 271.14,308.95 272.11,309.98 273.09,311 274.06,311.99 275.04,312.95 276.02,313.87 276.99,314.75 277.97,315.58 278.94,316.35 279.92,317.07 280.9,317.72 281.87,318.31 282.85,318.83 283.82,319.27 284.8,319.64 285.78,319.92 286.75,320.13 287.73,320.25 288.71,320.29 289.68,320.25 290.66,320.13 291.63,319.92 292.61,319.64 293.59,319.27 294.56,318.83 295.54,318.31 296.51,317.72 297.49,317.07 298.47,316.35 299.44,315.58 300.42,314.75 301.39,313.87 302.37,312.95 303.35,311.99 304.32,311 305.3,309.98 306.28,308.95 307.25,307.9 308.23,306.84 309.2,305.79 310.18,304.74 311.16,303.7 312.13,302.69 313.11,301.7 314.08,300.74 315.06,299.81 316.04,298.94 317.01,298.11 317.99,297.33 318.97,296.61 319.94,295.96 320.92,295.37 321.89,294.86 322.87,294.42 323.85,294.05 324.82,293.76 325.8,293.56 326.77,293.43 327.75,293.39 328.73,293.28 329.7,292.95 330.68,292.4 331.65,291.64 332.63,290.66 333.61,289.48 334.58,288.11 335.56,286.54 336.54,284.8 337.51,282.89 338.49,280.82 339.46,278.61 340.44,276.27 341.42,273.82 342.39,271.26 343.37,268.62 344.34,265.91 345.32,263.15 346.3,260.35 347.27,257.54 348.25,254.72 349.22,251.93 350.2,249.17 351.18,246.46 352.15,243.82 353.13,241.26 354.11,238.8 355.08,236.46 356.06,234.25 357.03,232.18 358.01,230.27 358.99,228.53 359.96,226.97 360.94,225.59 361.91,224.41 362.89,223.44 363.87,222.67 364.84,222.12 365.82,221.79 366.79,221.68 367.77,221.79 368.75,222.12 369.72,222.68 370.7,223.44 371.68,224.42 372.65,225.6 373.63,226.98 374.6,228.54 375.58,230.29 376.56,232.21 377.53,234.28 378.51,236.49 379.48,238.84 380.46,241.3 381.44,243.86 382.41,246.51 383.39,249.23 384.36,251.99 385.34,254.8 386.32,257.62 387.29,260.44 388.27,263.24 389.25,266 390.22,268.72 391.2,271.37 392.17,273.93 393.15,276.39 394.13,278.74 395.1,280.95 396.08,283.03 397.05,284.94 398.03,286.69 399.01,288.25 399.98,289.63 400.96,290.81 401.93,291.79 402.91,292.56 403.89,293.11 404.86,293.44 405.84,293.55" fill="none" stroke="#5757dd" stroke-width="1.05" stroke-dasharray="1.2 2.9"/>
<rect x="24.5" y="367.5" width="178.3" height="144.1" fill="none" stroke="#6a6a6a" stroke-width="1.0"/>
<path d="M33.41 511.6v2.6M51.25 511.6v2.6M69.08 511.6v2.6M86.91 511.6v2.6M104.74 511.6v2.6M122.57 511.6v2.6M140.4 511.6v2.6M158.23 511.6v2.6M176.06 511.6v2.6M193.88 511.6v2.6M42.33 511.6v1.5M60.16 511.6v1.5M77.99 511.6v1.5M95.82 511.6v1.5M113.65 511.6v1.5M131.48 511.6v1.5M149.31 511.6v1.5M167.14 511.6v1.5M184.97 511.6v1.5" stroke="#666666" stroke-width="0.9" fill="none"/>
<text x="33.41" y="520.9" text-anchor="middle" class="tl">-50</text>
<text x="51.25" y="520.9" text-anchor="middle" class="tl">-40</text>
<text x="69.08" y="520.9" text-anchor="middle" class="tl">-30</text>
<text x="86.91" y="520.9" text-anchor="middle" class="tl">-20</text>
<text x="104.74" y="520.9" text-anchor="middle" class="tl">-10</text>
<text x="122.57" y="520.9" text-anchor="middle" class="tl">0</text>
<text x="140.4" y="520.9" text-anchor="middle" class="tl">10</text>
<text x="158.23" y="520.9" text-anchor="middle" class="tl">20</text>
<text x="176.06" y="520.9" text-anchor="middle" class="tl">30</text>
<text x="193.88" y="520.9" text-anchor="middle" class="tl">40</text>
<path d="M24.5 505.84h-2.8M24.5 494.31h-2.8M24.5 482.78h-2.8M24.5 471.25h-2.8M24.5 459.72h-2.8M24.5 448.2h-2.8M24.5 436.67h-2.8M24.5 425.14h-2.8M24.5 413.61h-2.8M24.5 402.08h-2.8M24.5 390.56h-2.8M24.5 379.03h-2.8M24.5 367.5h-2.8M24.5 500.07h-1.5M24.5 488.54h-1.5M24.5 477.02h-1.5M24.5 465.49h-1.5M24.5 453.96h-1.5M24.5 442.43h-1.5M24.5 430.9h-1.5M24.5 419.38h-1.5M24.5 407.85h-1.5M24.5 396.32h-1.5M24.5 384.79h-1.5M24.5 373.26h-1.5" stroke="#666666" stroke-width="0.9" fill="none"/>
<text x="19.9" y="508.44" text-anchor="end" class="tl">-12</text>
<text x="19.9" y="496.91" text-anchor="end" class="tl">-10</text>
<text x="19.9" y="485.38" text-anchor="end" class="tl">-8</text>
<text x="19.9" y="473.85" text-anchor="end" class="tl">-6</text>
<text x="19.9" y="462.32" text-anchor="end" class="tl">-4</text>
<text x="19.9" y="450.8" text-anchor="end" class="tl">-2</text>
<text x="19.9" y="439.27" text-anchor="end" class="tl">0</text>
<text x="19.9" y="427.74" text-anchor="end" class="tl">2</text>
<text x="19.9" y="416.21" text-anchor="end" class="tl">4</text>
<text x="19.9" y="404.68" text-anchor="end" class="tl">6</text>
<text x="19.9" y="393.16" text-anchor="end" class="tl">8</text>
<text x="19.9" y="381.63" text-anchor="end" class="tl">10</text>
<text x="19.9" y="370.1" text-anchor="end" class="tl">12</text>
<polyline points="36.98,494.61 39.6,493.01 42.21,491.4 44.83,489.78 47.44,488.15 50.06,486.51 52.67,484.86 55.29,483.2 57.9,481.52 60.52,479.84 63.13,478.15 65.75,476.44 68.36,474.73 70.98,473.01 73.59,471.27 76.21,469.53 78.82,467.77 81.44,466 84.05,464.23 86.67,462.44 89.28,460.64 91.9,458.83 94.51,457.01 97.13,455.18 99.74,453.35 102.36,451.49 104.97,449.63 107.59,447.76 110.2,445.88 112.82,443.99 115.43,442.09 118.05,440.17 120.66,438.25 123.28,436.31 125.89,434.37 128.51,432.41 131.12,430.45 133.74,428.47 136.35,426.49 138.97,424.49 141.58,422.48 144.2,420.46 146.81,418.43 149.43,416.4 152.04,414.35 154.66,412.29 157.27,410.22 159.89,408.13 162.5,406.04 165.12,403.94 167.73,401.83 170.35,399.7 172.96,397.57 175.58,395.43 178.19,393.27 180.81,391.11 183.42,388.93 186.04,386.75 188.65,384.55 191.27,382.34 193.88,380.13" fill="none" stroke="#353535" stroke-width="1.05"/>
<polyline points="36.98,498.74 39.6,497.13 42.21,495.5 44.83,493.86 47.44,492.2 50.06,490.53 52.67,488.84 55.29,487.14 57.9,485.42 60.52,483.68 63.13,481.93 65.75,480.17 68.36,478.39 70.98,476.59 73.59,474.77 76.21,472.95 78.82,471.1 81.44,469.24 84.05,467.37 86.67,465.48 89.28,463.57 91.9,461.65 94.51,459.71 97.13,457.76 99.74,455.79 102.36,453.8 104.97,451.8 107.59,449.79 110.2,447.76 112.82,445.71 115.43,443.65 118.05,441.57 120.66,439.48 123.28,437.37 125.89,435.24 128.51,433.1 131.12,430.95 133.74,428.78 136.35,426.59 138.97,424.39 141.58,422.17 144.2,419.94 146.81,417.69 149.43,415.42 152.04,413.14 154.66,410.85 157.27,408.54 159.89,406.21 162.5,403.87 165.12,401.51 167.73,399.13 170.35,396.75 172.96,394.34 175.58,391.92 178.19,389.48 180.81,387.03 183.42,384.57 186.04,382.08 188.65,379.58 191.27,377.07 193.88,374.54" fill="none" stroke="#e8393f" stroke-width="1.05" stroke-dasharray="3.9 2.6"/>
<polyline points="36.98,499.91 39.6,498.27 42.21,496.62 44.83,494.95 47.44,493.27 50.06,491.57 52.67,489.86 55.29,488.13 57.9,486.39 60.52,484.63 63.13,482.86 65.75,481.07 68.36,479.27 70.98,477.45 73.59,475.62 76.21,473.77 78.82,471.91 81.44,470.04 84.05,468.14 86.67,466.24 89.28,464.32 91.9,462.38 94.51,460.43 97.13,458.47 99.74,456.49 102.36,454.49 104.97,452.48 107.59,450.45 110.2,448.41 112.82,446.36 115.43,444.29 118.05,442.21 120.66,440.11 123.28,437.99 125.89,435.86 128.51,433.72 131.12,431.56 133.74,429.39 136.35,427.2 138.97,424.99 141.58,422.78 144.2,420.54 146.81,418.29 149.43,416.03 152.04,413.75 154.66,411.46 157.27,409.15 159.89,406.83 162.5,404.49 165.12,402.14 167.73,399.77 170.35,397.39 172.96,394.99 175.58,392.58 178.19,390.15 180.81,387.71 183.42,385.26 186.04,382.78 188.65,380.3 191.27,377.8 193.88,375.28" fill="none" stroke="#5757dd" stroke-width="1.05" stroke-dasharray="1.2 2.9"/>
<polyline points="36.98,502.91 39.6,501.17 42.21,499.43 44.83,497.66 47.44,495.89 50.06,494.11 52.67,492.31 55.29,490.49 57.9,488.67 60.52,486.83 63.13,484.98 65.75,483.12 68.36,481.24 70.98,479.36 73.59,477.45 76.21,475.54 78.82,473.61 81.44,471.67 84.05,469.72 86.67,467.76 89.28,465.78 91.9,463.79 94.51,461.79 97.13,459.77 99.74,457.74 102.36,455.7 104.97,453.64 107.59,451.58 110.2,449.5 112.82,447.4 115.43,445.3 118.05,443.18 120.66,441.05 123.28,438.91 125.89,436.75 128.51,434.58 131.12,432.4 133.74,430.2 136.35,428 138.97,425.78 141.58,423.54 144.2,421.3 146.81,419.04 149.43,416.77 152.04,414.48 154.66,412.18 157.27,409.88 159.89,407.55 162.5,405.22 165.12,402.87 167.73,400.51 170.35,398.13 172.96,395.75 175.58,393.35 178.19,390.94 180.81,388.51 183.42,386.07 186.04,383.62 188.65,381.16 191.27,378.69 193.88,376.2" fill="none" stroke="#22dc55" stroke-width="1.05" stroke-dasharray="4.2 1.9 0.9 1.9"/>
<rect x="236.7" y="367.4" width="180" height="144.9" fill="none" stroke="#6a6a6a" stroke-width="1.0"/>
<path d="M236.7 512.3v2.6M252.35 512.3v2.6M268 512.3v2.6M283.66 512.3v2.6M299.31 512.3v2.6M314.96 512.3v2.6M330.61 512.3v2.6M346.27 512.3v2.6M361.92 512.3v2.6M377.57 512.3v2.6M393.22 512.3v2.6M408.87 512.3v2.6M244.53 512.3v1.5M260.18 512.3v1.5M275.83 512.3v1.5M291.48 512.3v1.5M307.13 512.3v1.5M322.79 512.3v1.5M338.44 512.3v1.5M354.09 512.3v1.5M369.74 512.3v1.5M385.4 512.3v1.5M401.05 512.3v1.5" stroke="#666666" stroke-width="0.9" fill="none"/>
<text x="236.7" y="522.2" text-anchor="middle" class="tl">-12</text>
<text x="252.35" y="522.2" text-anchor="middle" class="tl">-10</text>
<text x="268" y="522.2" text-anchor="middle" class="tl">-8</text>
<text x="283.66" y="522.2" text-anchor="middle" class="tl">-6</text>
<text x="299.31" y="522.2" text-anchor="middle" class="tl">-4</text>
<text x="314.96" y="522.2" text-anchor="middle" class="tl">-2</text>
<text x="330.61" y="522.2" text-anchor="middle" class="tl">0</text>
<text x="346.27" y="522.2" text-anchor="middle" class="tl">2</text>
<text x="361.92" y="522.2" text-anchor="middle" class="tl">4</text>
<text x="377.57" y="522.2" text-anchor="middle" class="tl">6</text>
<text x="393.22" y="522.2" text-anchor="middle" class="tl">8</text>
<text x="408.87" y="522.2" text-anchor="middle" class="tl">10</text>
<path d="M236.7 506.5h-2.8M236.7 494.91h-2.8M236.7 483.32h-2.8M236.7 471.73h-2.8M236.7 460.14h-2.8M236.7 448.54h-2.8M236.7 436.95h-2.8M236.7 425.36h-2.8M236.7 413.77h-2.8M236.7 402.18h-2.8M236.7 390.58h-2.8M236.7 378.99h-2.8M236.7 367.4h-2.8M236.7 500.71h-1.5M236.7 489.12h-1.5M236.7 477.52h-1.5M236.7 465.93h-1.5M236.7 454.34h-1.5M236.7 442.75h-1.5M236.7 431.16h-1.5M236.7 419.56h-1.5M236.7 407.97h-1.5M236.7 396.38h-1.5M236.7 384.79h-1.5M236.7 373.2h-1.5" stroke="#666666" stroke-width="0.9" fill="none"/>
<text x="232.1" y="509.1" text-anchor="end" class="tl">-12</text>
<text x="232.1" y="497.51" text-anchor="end" class="tl">-10</text>
<text x="232.1" y="485.92" text-anchor="end" class="tl">-8</text>
<text x="232.1" y="474.33" text-anchor="end" class="tl">-6</text>
<text x="232.1" y="462.74" text-anchor="end" class="tl">-4</text>
<text x="232.1" y="451.14" text-anchor="end" class="tl">-2</text>
<text x="232.1" y="439.55" text-anchor="end" class="tl">0</text>
<text x="232.1" y="427.96" text-anchor="end" class="tl">2</text>
<text x="232.1" y="416.37" text-anchor="end" class="tl">4</text>
<text x="232.1" y="404.78" text-anchor="end" class="tl">6</text>
<text x="232.1" y="393.18" text-anchor="end" class="tl">8</text>
<text x="232.1" y="381.59" text-anchor="end" class="tl">10</text>
<text x="232.1" y="370" text-anchor="end" class="tl">12</text>
<polyline points="254.07,494.86 256.5,493.13 258.93,491.39 261.36,489.65 263.79,487.9 266.22,486.14 268.65,484.37 271.08,482.6 273.51,480.83 275.94,479.04 278.37,477.25 280.8,475.45 283.23,473.65 285.66,471.84 288.09,470.02 290.52,468.2 292.95,466.36 295.38,464.53 297.81,462.68 300.24,460.83 302.67,458.97 305.1,457.11 307.53,455.23 309.96,453.36 312.39,451.47 314.82,449.58 317.25,447.68 319.68,445.77 322.11,443.86 324.54,441.94 326.97,440.01 329.4,438.08 331.83,436.14 334.26,434.19 336.69,432.24 339.12,430.28 341.55,428.31 343.98,426.34 346.41,424.36 348.84,422.37 351.27,420.38 353.7,418.38 356.13,416.37 358.56,414.36 360.99,412.33 363.42,410.31 365.85,408.27 368.28,406.23 370.71,404.18 373.14,402.13 375.57,400.07 378,398 380.43,395.92 382.86,393.84 385.29,391.75 387.72,389.66 390.15,387.55 392.58,385.44 395.01,383.33 397.44,381.21 399.87,379.08" fill="none" stroke="#353535" stroke-width="1.05"/>
<polyline points="254.07,502.71 256.5,500.97 258.93,499.22 261.36,497.46 263.79,495.69 266.22,493.91 268.65,492.12 271.08,490.31 273.51,488.5 275.94,486.67 278.37,484.84 280.8,482.99 283.23,481.14 285.66,479.27 288.09,477.39 290.52,475.5 292.95,473.6 295.38,471.69 297.81,469.76 300.24,467.83 302.67,465.89 305.1,463.93 307.53,461.97 309.96,459.99 312.39,458 314.82,456 317.25,454 319.68,451.98 322.11,449.94 324.54,447.9 326.97,445.85 329.4,443.79 331.83,441.71 334.26,439.63 336.69,437.53 339.12,435.43 341.55,433.31 343.98,431.18 346.41,429.04 348.84,426.89 351.27,424.73 353.7,422.56 356.13,420.38 358.56,418.19 360.99,415.98 363.42,413.77 365.85,411.54 368.28,409.31 370.71,407.06 373.14,404.8 375.57,402.53 378,400.25 380.43,397.96 382.86,395.66 385.29,393.35 387.72,391.02 390.15,388.69 392.58,386.35 395.01,383.99 397.44,381.62 399.87,379.25" fill="none" stroke="#e8393f" stroke-width="1.05" stroke-dasharray="3.9 2.6"/>
<polyline points="254.07,503.3 256.5,501.56 258.93,499.8 261.36,498.04 263.79,496.26 266.22,494.47 268.65,492.67 271.08,490.86 273.51,489.04 275.94,487.21 278.37,485.37 280.8,483.51 283.23,481.65 285.66,479.77 288.09,477.88 290.52,475.99 292.95,474.08 295.38,472.16 297.81,470.23 300.24,468.29 302.67,466.33 305.1,464.37 307.53,462.39 309.96,460.41 312.39,458.41 314.82,456.41 317.25,454.39 319.68,452.36 322.11,450.32 324.54,448.27 326.97,446.2 329.4,444.13 331.83,442.05 334.26,439.95 336.69,437.85 339.12,435.73 341.55,433.6 343.98,431.46 346.41,429.31 348.84,427.15 351.27,424.98 353.7,422.8 356.13,420.6 358.56,418.4 360.99,416.18 363.42,413.96 365.85,411.72 368.28,409.47 370.71,407.21 373.14,404.94 375.57,402.66 378,400.37 380.43,398.07 382.86,395.75 385.29,393.43 387.72,391.09 390.15,388.74 392.58,386.39 395.01,384.02 397.44,381.64 399.87,379.25" fill="none" stroke="#5757dd" stroke-width="1.05" stroke-dasharray="1.2 2.9"/>
<polyline points="254.07,503.94 256.5,502.19 258.93,500.43 261.36,498.65 263.79,496.87 266.22,495.07 268.65,493.27 271.08,491.45 273.51,489.62 275.94,487.78 278.37,485.93 280.8,484.07 283.23,482.2 285.66,480.31 288.09,478.42 290.52,476.51 292.95,474.59 295.38,472.66 297.81,470.72 300.24,468.77 302.67,466.81 305.1,464.84 307.53,462.85 309.96,460.86 312.39,458.85 314.82,456.83 317.25,454.8 319.68,452.76 322.11,450.71 324.54,448.65 326.97,446.57 329.4,444.49 331.83,442.39 334.26,440.28 336.69,438.16 339.12,436.03 341.55,433.89 343.98,431.74 346.41,429.57 348.84,427.4 351.27,425.21 353.7,423.02 356.13,420.81 358.56,418.59 360.99,416.36 363.42,414.12 365.85,411.86 368.28,409.6 370.71,407.32 373.14,405.04 375.57,402.74 378,400.43 380.43,398.11 382.86,395.78 385.29,393.44 387.72,391.08 390.15,388.72 392.58,386.34 395.01,383.95 397.44,381.56 399.87,379.15" fill="none" stroke="#22dc55" stroke-width="1.05" stroke-dasharray="4.2 1.9 0.9 1.9"/>
<line x1="49" y1="28.8" x2="64.1" y2="28.8" stroke="#353535" stroke-width="1.3"/>
<text x="67.7" y="32" class="lg">rigid</text>
<line x1="49" y1="37.8" x2="64.1" y2="37.8" stroke="#e8393f" stroke-width="1.2" stroke-dasharray="3.9 2.6"/>
<text x="67.7" y="41" class="lg">473.15K</text>
<line x1="49" y1="47.1" x2="64.1" y2="47.1" stroke="#5757dd" stroke-width="1.2" stroke-dasharray="1.2 2.9"/>
<text x="67.7" y="50.3" class="lg">573.15K</text>
<line x1="49" y1="56.2" x2="64.1" y2="56.2" stroke="#22dc55" stroke-width="1.2" stroke-dasharray="4.2 1.9 0.9 1.9"/>
<text x="67.7" y="59.4" class="lg">673.15K</text>
<line x1="262.2" y1="35.8" x2="276.7" y2="35.8" stroke="#353535" stroke-width="1.3"/>
<text x="280.1" y="39" class="lg">473.15K-rigid</text>
<line x1="262.2" y1="44.8" x2="276.7" y2="44.8" stroke="#e8393f" stroke-width="1.2" stroke-dasharray="3.9 2.6"/>
<text x="280.1" y="48" class="lg">573.15K-rigid</text>
<line x1="262.2" y1="54" x2="276.7" y2="54" stroke="#5757dd" stroke-width="1.2" stroke-dasharray="1.2 2.9"/>
<text x="280.1" y="57.2" class="lg">673.15K-rigid</text>
<line x1="49.1" y1="206.3" x2="64" y2="206.3" stroke="#353535" stroke-width="1.3"/>
<text x="67.8" y="209.5" class="lg">rigid</text>
<line x1="49.1" y1="215.5" x2="64" y2="215.5" stroke="#e8393f" stroke-width="1.2" stroke-dasharray="3.9 2.6"/>
<text x="67.8" y="218.7" class="lg">473.15K</text>
<line x1="49.1" y1="224.7" x2="64" y2="224.7" stroke="#5757dd" stroke-width="1.2" stroke-dasharray="1.2 2.9"/>
<text x="67.8" y="227.9" class="lg">573.15K</text>
<line x1="49.1" y1="233.9" x2="64" y2="233.9" stroke="#22dc55" stroke-width="1.2" stroke-dasharray="4.2 1.9 0.9 1.9"/>
<text x="67.8" y="237.1" class="lg">673.15K</text>
<line x1="263.2" y1="211.3" x2="276.9" y2="211.3" stroke="#353535" stroke-width="1.3"/>
<text x="280.9" y="214.5" class="lg">473.15K-rigid</text>
<line x1="263.2" y1="220.9" x2="276.9" y2="220.9" stroke="#e8393f" stroke-width="1.2" stroke-dasharray="3.9 2.6"/>
<text x="280.9" y="224.1" class="lg">573.15K-rigid</text>
<line x1="263.2" y1="230.4" x2="276.9" y2="230.4" stroke="#5757dd" stroke-width="1.2" stroke-dasharray="1.2 2.9"/>
<text x="280.9" y="233.6" class="lg">673.15K-rigid</text>
<line x1="51.3" y1="389.6" x2="66.2" y2="389.6" stroke="#353535" stroke-width="1.3"/>
<text x="69.8" y="392.8" class="lg">rigid</text>
<line x1="51.3" y1="399" x2="66.2" y2="399" stroke="#e8393f" stroke-width="1.2" stroke-dasharray="3.9 2.6"/>
<text x="69.8" y="402.2" class="lg">473.15K</text>
<line x1="51.3" y1="408.1" x2="66.2" y2="408.1" stroke="#5757dd" stroke-width="1.2" stroke-dasharray="1.2 2.9"/>
<text x="69.8" y="411.3" class="lg">573.15K</text>
<line x1="51.3" y1="417.2" x2="66.2" y2="417.2" stroke="#22dc55" stroke-width="1.2" stroke-dasharray="4.2 1.9 0.9 1.9"/>
<text x="69.8" y="420.4" class="lg">673.15K</text>
<line x1="261.9" y1="386.9" x2="276.5" y2="386.9" stroke="#353535" stroke-width="1.3"/>
<text x="280.6" y="390.1" class="lg">rigid</text>
<line x1="261.9" y1="396.4" x2="276.5" y2="396.4" stroke="#e8393f" stroke-width="1.2" stroke-dasharray="3.9 2.6"/>
<text x="280.6" y="399.6" class="lg">473.15K</text>
<line x1="261.9" y1="405.6" x2="276.5" y2="405.6" stroke="#5757dd" stroke-width="1.2" stroke-dasharray="1.2 2.9"/>
<text x="280.6" y="408.8" class="lg">573.15K</text>
<line x1="261.9" y1="415" x2="276.5" y2="415" stroke="#22dc55" stroke-width="1.2" stroke-dasharray="4.2 1.9 0.9 1.9"/>
<text x="280.6" y="418.2" class="lg">673.15K</text>
<text x="113.95" y="171.6" text-anchor="middle" class="tt">Time/s</text>
<text x="328" y="169.9" text-anchor="middle" class="tt">Time/s</text>
<text x="113.85" y="349.8" text-anchor="middle" class="tt">Time/s</text>
<text x="327.75" y="349.9" text-anchor="middle" class="tt">Time/s</text>
<text x="113.65" y="529.2" text-anchor="middle" class="tt">Driver displacement/mm</text>
<text x="326.7" y="529.6" text-anchor="middle" class="tt">Driver displacement/mm</text>
<text transform="translate(10.2 76.4) rotate(-90)" x="0" y="0" text-anchor="middle" class="tt">Angle/°</text>
<text transform="translate(222.2 79.2) rotate(-90)" x="0" y="0" text-anchor="middle" class="tt">Angle/°</text>
<text transform="translate(10.2 254.5) rotate(-90)" x="0" y="0" text-anchor="middle" class="tt">Angle/°</text>
<text transform="translate(222.2 258.5) rotate(-90)" x="0" y="0" text-anchor="middle" class="tt">Angle/°</text>
<text transform="translate(10.2 433.4) rotate(-90)" x="0" y="0" text-anchor="middle" class="tt">Angle/°</text>
<text transform="translate(222.2 437) rotate(-90)" x="0" y="0" text-anchor="middle" class="tt">Angle/°</text>
<text x="210.5" y="184" text-anchor="middle" class="pl">(a)</text>
<text x="210.5" y="362.2" text-anchor="middle" class="pl">(b)</text>
<text x="104.1" y="542.6" text-anchor="middle" class="pl">(c)</text>
<text x="316.7" y="542.8" text-anchor="middle" class="pl">(d)</text>
</svg>
</body></html>
